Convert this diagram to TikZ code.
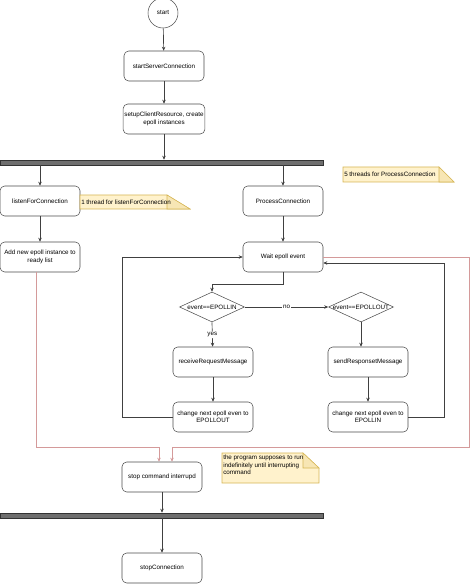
\documentclass[tikz,border=0pt]{standalone}
\usepackage{fontspec}
\setmainfont{Liberation Sans}
\usetikzlibrary{arrows.meta, shapes.geometric, calc}

\definecolor{notefill}{HTML}{FFF2CC}
\definecolor{notedraw}{HTML}{D6B656}
\definecolor{redwire}{HTML}{D49A9A}
\definecolor{barfill}{HTML}{6E6E6E}

\tikzset{
  txt/.style={font=\fontsize{4.7}{5.6}\selectfont},
  box/.style={txt, draw=black!70, rounded corners=3.5pt, fill=white,
    minimum width=60pt, minimum height=22.5pt, align=center, inner sep=1pt},
  decision/.style={diamond, draw=black!70, fill=white, inner sep=0pt,
    minimum width=48.75pt, minimum height=22.5pt},
  bar/.style={draw=black!80, fill=barfill, minimum width=242.25pt,
    minimum height=3.75pt, inner sep=0pt},
  wire/.style={draw=black!75, line width=0.5pt, -{Stealth[length=3pt,width=2.6pt]}},
  redline/.style={draw=redwire, line width=0.5pt, -{Stealth[length=3pt,width=2.6pt]}},
  note/.style={draw=notedraw, fill=notefill, line width=0.4pt},
  lbl/.style={txt, fill=white, inner sep=0.5pt}
}

\begin{document}
\begin{tikzpicture}[x=0.75pt, y=-0.75pt]
\useasboundingbox (0,0) rectangle (474,584);
\clip (0,0) rectangle (474,584);

% 1. start and setup
\node[txt, circle, draw=black!70, minimum size=22.5pt] (start) at (163,13) {start};
\node[box] (ssc) at (164,66) {startServerConnection};
\node[box] (scr) at (164,119) {setupClientResource, create\\epoll instances};
\node[bar] (bar1) at (161.5,162.5) {};

% 2. the two thread branches
\node[box] (lfc) at (40,201) {listenForConnection};
\node[box] (ane) at (40,257) {Add new epoll instance to\\ready list};
\node[box] (pc) at (283,201) {ProcessConnection};
\node[box] (wait) at (283,257) {Wait epoll event};

% 3. decisions and handlers
\node[decision, label={[txt]center:event==EPOLLIN}] (d1) at (212,307) {};
\node[decision, label={[txt]center:event==EPOLLOUT}] (d2) at (361,307) {};
\node[box] (rrm) at (213,362) {receiveRequestMessage};
\node[box] (chg1) at (213,417) {change next epoll even to\\EPOLLOUT};
\node[box] (srm) at (368,362) {sendResponsetMessage};
\node[box] (chg2) at (368,417) {change next epoll even to\\EPOLLIN};

% 4. stopping
\node[box] (stop) at (162,477) {stop command interrupd};
\node[bar] (bar2) at (161.5,515.5) {};
\node[box] (sc) at (162,568) {stopConnection};

% 5. notes
\draw[note] (80,195) -- (167,195) -- (190,209) -- (80,209) -- cycle;
\draw[note, fill=notefill!80!notedraw] (167,195) -- (190,209) -- (167,209) -- cycle;
\node[txt, anchor=west, inner sep=0pt] (n1) at (81,202) {1 thread for listenForConnection};

\draw[note] (343,167) -- (439,167) -- (454,182) -- (343,182) -- cycle;
\draw[note, fill=notefill!80!notedraw] (439,167) -- (454,182) -- (439,182) -- cycle;
\node[txt, anchor=west, inner sep=0pt] (n2) at (344,174) {5 threads for ProcessConnection};

\draw[note] (222,453) -- (303,453) -- (319,468) -- (319,483) -- (222,483) -- cycle;
\draw[note, fill=notefill!80!notedraw] (303,453) -- (319,468) -- (303,468) -- cycle;
\node[txt, anchor=north west, inner sep=0pt, align=left] (n3) at (223,455)
  {the program supposes to run\\indefinitely until interrupting\\command};

% 6. connectors
\coordinate (k1) at (212,284);
\coordinate (loopL) at (122,417);
\coordinate (loopR) at (444,417);
\coordinate (redL) at (36,447);
\coordinate (redR) at (469,447);

\draw[wire] (start) -- (ssc);
\draw[wire] (ssc) -- (scr);
\draw[wire] (scr) -- (scr |- bar1.north);
\draw[wire] (bar1.south -| lfc) -- (lfc);
\draw[wire] (bar1.south -| pc) -- (pc);
\draw[wire] (lfc) -- (ane);
\draw[wire] (pc) -- (wait);
\draw[wire] (wait.south) |- (k1) -- (d1.north);
\draw[wire] (d1.east) -- node[lbl] {no} (d2.west);
\draw[wire] (d1.south) -- node[lbl] {yes} (rrm);
\draw[wire] (rrm) -- (chg1);
\draw[wire] (d2.south) -- (d2.south |- srm.north);
\draw[wire] (srm) -- (chg2);
\draw[wire] (chg1.west) -- (loopL) |- (wait.west);
\draw[wire] (chg2.east) -- (loopR) |- ($(wait.east)+(0,6)$);
\draw[redline] (ane.south -| redL) -- (redL) -| ([xshift=-2.25pt]stop.north);
\draw[redline] (wait.east) -| (redR) -| ([xshift=7.5pt]stop.north);
\draw[wire] (stop) -- (stop |- bar2.north);
\draw[wire] (bar2.south -| sc) -- (sc);
\end{tikzpicture}
\end{document}
